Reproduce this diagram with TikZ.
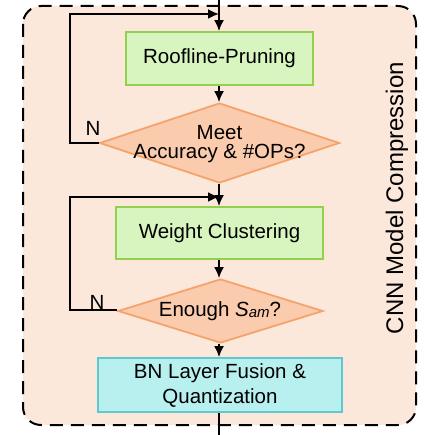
\documentclass[tikz,border=0pt]{standalone}
\usepackage{fontspec}
\setmainfont{Liberation Sans}
\usetikzlibrary{shapes.geometric,arrows.meta}
\definecolor{bgc}{HTML}{FCE7DB}
\definecolor{gfill}{HTML}{D8F5C0}
\definecolor{gline}{HTML}{92D050}
\definecolor{ofill}{HTML}{FBCBAE}
\definecolor{oline}{HTML}{F4A46A}
\definecolor{cfill}{HTML}{B8F0F0}
\definecolor{cline}{HTML}{5FC9CF}
\tikzset{
  lbl/.style={font=\fontsize{20.5}{24}\selectfont, inner sep=0pt, align=center},
  gbox/.style={draw=gline, fill=gfill, line width=1.8pt, inner sep=0pt},
  cbox/.style={draw=cline, fill=cfill, line width=1.8pt, inner sep=0pt},
  dia/.style={diamond, draw=oline, fill=ofill, line width=1.8pt, inner sep=0pt},
  arr/.style={line width=1.8pt, -{Latex[length=11pt,width=10pt]}},
  ln/.style={line width=1.8pt},
}
\begin{document}
\begin{tikzpicture}[x=1pt,y=-1pt]
\useasboundingbox (0,0) rectangle (435,435);
\draw[line width=2pt, dash pattern=on 13pt off 8pt, rounded corners=18pt, fill=bgc] (23,6) rectangle (416,425);
\node[lbl, font=\fontsize{24}{28}\selectfont, rotate=90] (title) at (397,198) {CNN Model Compression};

\node[gbox, minimum width=187pt, minimum height=53pt] (rp) at (219.5,58.5) {};
\node[lbl] (rpt) at (rp) {Roofline-Pruning};

\node[dia, minimum width=240pt, minimum height=80pt] (d1) at (219.5,143) {};
\node[lbl, font=\fontsize{20.5}{19.5}\selectfont] (d1t) at (219.5,144) {Meet\\Accuracy \& \#OPs?};

\node[gbox, minimum width=207pt, minimum height=52pt] (wc) at (219.5,233) {};
\node[lbl] (wct) at (wc) {Weight Clustering};

\node[dia, minimum width=205pt, minimum height=64pt] (d2) at (220.5,311) {};
\node[lbl] (d2t) at (220,311) {Enough \textit{S}\raisebox{-1.5pt}{\fontsize{15}{18}\selectfont\itshape am}?};

\node[cbox, minimum width=244pt, minimum height=54pt] (bn) at (220,385) {};
\node[lbl, font=\fontsize{20.5}{25}\selectfont] (bnt) at (220,386) {BN Layer Fusion \&\\Quantization};

\node[lbl] (n1) at (93,128) {N};
\node[lbl] (n2) at (97,302) {N};

\coordinate (top) at (219,0);
\coordinate (j1) at (219,14);
\coordinate (c1) at (70,143);
\coordinate (j2) at (219,197);
\coordinate (c2) at (70,310);
\coordinate (bot) at (219,445);

\draw[arr] (top) -- (rp.north -| top);
\draw[arr] (d1.west) -- (c1) |- (j1);
\draw[arr] (rp.south -| top) -- (d1.north -| top);
\draw[arr] (d1.south -| top) -- (wc.north -| top);
\draw[arr] (d2.west |- c2) -- (c2) |- (j2);
\draw[arr] (wc.south -| top) -- (d2.north -| top);
\draw[arr] (d2.south -| top) -- (bn.north -| top);
\draw[ln] (bn.south -| top) -- (bot);
\end{tikzpicture}
\end{document}
